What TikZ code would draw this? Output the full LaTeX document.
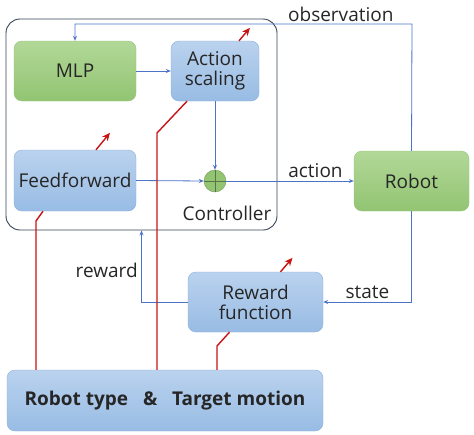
\documentclass[tikz,border=0pt]{standalone}
\usepackage{fontspec}
\setmainfont{Open Sans}
\usetikzlibrary{arrows.meta}

\definecolor{greentop}{RGB}{178,216,152}
\definecolor{greenbot}{RGB}{146,196,114}
\definecolor{greenline}{RGB}{150,195,125}
\definecolor{bluetop}{RGB}{186,210,238}
\definecolor{bluebot}{RGB}{152,188,228}
\definecolor{blueline}{RGB}{140,175,220}
\definecolor{wire}{RGB}{75,115,200}
\definecolor{tune}{RGB}{200,20,20}
\definecolor{frame}{RGB}{55,65,85}

\tikzset{
  greenbox/.style={draw=greenline, top color=greentop, bottom color=greenbot,
    rounded corners=8pt, align=center, inner sep=0pt, text=black!85},
  bluebox/.style={draw=blueline, top color=bluetop, bottom color=bluebot,
    rounded corners=8pt, align=center, inner sep=0pt, text=black!85},
  wireline/.style={draw=wire, line width=0.8pt, -{Stealth[length=5pt,width=4pt]}},
  tuneline/.style={draw=tune, line width=1.4pt},
  tunearrow/.style={tuneline, -{Stealth[length=8pt,width=7pt]}},
  lbl/.style={font=\fontsize{19}{21}\selectfont, text=black!85},
}

\begin{document}
\begin{tikzpicture}[x=1pt, y=-1pt, font=\fontsize{19}{21}\selectfont]
\useasboundingbox (0,0) rectangle (474,434);

% controller frame
\node[draw=frame, line width=0.9pt, rounded corners=14pt, minimum width=271pt,
  minimum height=211pt] (ctrl) at (141.5,124.5) {};
\node[lbl] (ctrllabel) at (227,213) {Controller};

\node[greenbox, minimum width=122pt, minimum height=60pt] (mlp) at (75,71) {MLP};
\node[bluebox, minimum width=88pt, minimum height=60pt] (act) at (215,71) {Action\\[-1pt]scaling};
\node[bluebox, minimum width=122pt, minimum height=61pt] (ff) at (75,180.5) {Feedforward};
\node[circle, draw=greenline!80!black, fill=greenbot, minimum size=22pt, inner sep=0pt] (sum) at (215,181) {};
\draw[greenline!60!black, line width=0.6pt] (sum.north) -- (sum.south) (sum.west) -- (sum.east);

\node[greenbox, minimum width=115pt, minimum height=60pt] (robot) at (411.5,181) {Robot};
\node[bluebox, minimum width=135pt, minimum height=60pt] (reward) at (255.5,302) {Reward\\[-1pt]function};
\node[bluebox, minimum width=316pt, minimum height=61pt, font=\fontsize{19}{21}\selectfont\bfseries] (task) at (165,400.5) {Robot type~~~\&~~~Target motion};

% signal flow
\draw[wireline] (mlp.east) -- (act.west);
\draw[wireline] (act.south) -- (sum.north);
\draw[wireline] (ff.east) -- (sum.west);
\draw[wireline] (sum.east) -- (robot.west) node[lbl, pos=0.7, above] {action};
\coordinate (obs) at (412,24);
\draw[wireline] (robot.north) -- (obs) -| (mlp.north);
\node[lbl, anchor=base east] (obslabel) at ([xshift=-15pt,yshift=3pt]obs) {observation};
\draw[wireline] (robot.south) |- (reward.east) node[lbl, pos=0.75, above] {state};
\draw[wireline] (reward.west) -| (ctrl.south) node[lbl, pos=0.72, left] {reward};

% tuning paths
\coordinate (bend1) at (36,221);
\coordinate (bend2) at (157,133);
\coordinate (bend3) at (217,346);
\draw[tuneline] (task.north -| bend1) -- (bend1) -- ([xshift=-32pt]ff.south);
\draw[tuneline] (task.north -| bend2) -- (bend2) -- ([xshift=-28pt]act.south);
\draw[tuneline] (task.north -| bend3) -- (bend3) -- ([xshift=-26pt]reward.south);
\draw[tunearrow] ([xshift=21pt]ff.north) -- ++(14,-17);
\draw[tunearrow] ([xshift=24pt]act.north) -- ++(11,-13);
\draw[tunearrow] ([xshift=25pt]reward.north) -- ++(12,-14);
\end{tikzpicture}
\end{document}
